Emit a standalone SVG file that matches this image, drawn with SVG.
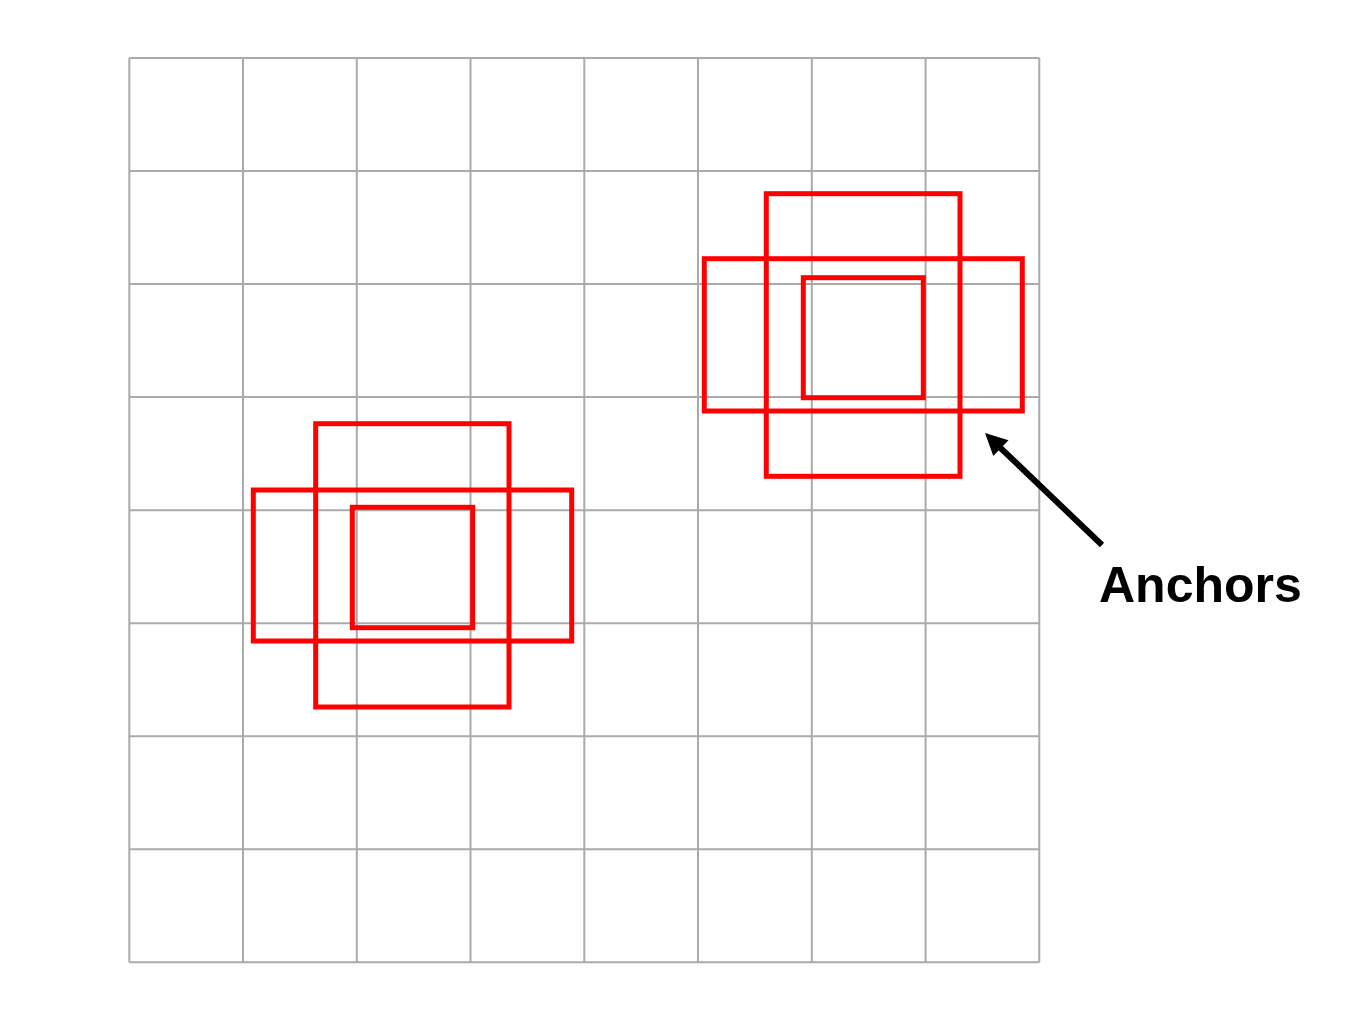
<svg xmlns="http://www.w3.org/2000/svg" width="1356" height="1016" viewBox="0 0 1356 1016">
<defs>
<style>
.grid line{stroke:#aaaaaa;stroke-width:2}
.box{fill:none;stroke:#ff0000;stroke-width:5}
.lbl{font-family:"Liberation Sans",Arial,sans-serif;font-weight:bold;font-size:50px;fill:#000}
</style>
</defs>
<rect width="1356" height="1016" fill="#fff"/>
<g id="grid" class="grid">
<line x1="129.3" y1="58" x2="129.3" y2="962.3"/>
<line x1="243" y1="58" x2="243" y2="962.3"/>
<line x1="356.8" y1="58" x2="356.8" y2="962.3"/>
<line x1="470.5" y1="58" x2="470.5" y2="962.3"/>
<line x1="584.3" y1="58" x2="584.3" y2="962.3"/>
<line x1="698" y1="58" x2="698" y2="962.3"/>
<line x1="811.8" y1="58" x2="811.8" y2="962.3"/>
<line x1="925.6" y1="58" x2="925.6" y2="962.3"/>
<line x1="1039.3" y1="58" x2="1039.3" y2="962.3"/>
<line x1="129.3" y1="58" x2="1039.3" y2="58"/>
<line x1="129.3" y1="171" x2="1039.3" y2="171"/>
<line x1="129.3" y1="284.1" x2="1039.3" y2="284.1"/>
<line x1="129.3" y1="397.1" x2="1039.3" y2="397.1"/>
<line x1="129.3" y1="510.2" x2="1039.3" y2="510.2"/>
<line x1="129.3" y1="623.2" x2="1039.3" y2="623.2"/>
<line x1="129.3" y1="736.2" x2="1039.3" y2="736.2"/>
<line x1="129.3" y1="849.3" x2="1039.3" y2="849.3"/>
<line x1="129.3" y1="962.3" x2="1039.3" y2="962.3"/>
</g>
<g id="anchors-lower-left">
<rect class="box" x="315.7" y="423.7" width="193.3" height="283.3"/>
<rect class="box" x="253.3" y="490" width="318.4" height="151"/>
<rect class="box" x="352.3" y="507.3" width="120.4" height="120.4"/>
</g>
<g id="anchors-upper-right">
<rect class="box" x="766.3" y="193.7" width="193.7" height="282.6"/>
<rect class="box" x="704.3" y="258.7" width="318" height="152.3"/>
<rect class="box" x="803.3" y="277.7" width="120" height="120"/>
</g>
<g id="connectors">
<line x1="1102" y1="545" x2="999" y2="446.5" stroke="#000" stroke-width="6"/>
<polygon points="985,433 1008.5,440.3 993.3,456.1" fill="#000"/>
</g>
<g id="label-anchors">
<text class="lbl" x="1099" y="602">Anchors</text>
</g>
</svg>
